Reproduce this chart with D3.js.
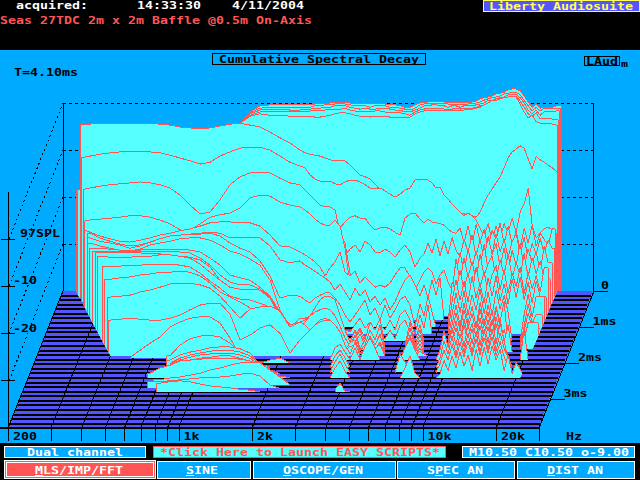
<!DOCTYPE html>
<html><head><meta charset="utf-8">
<script src="https://cdnjs.cloudflare.com/ajax/libs/d3/7.8.5/d3.min.js"></script>
<style>html,body{margin:0;padding:0;background:#000}svg{display:block}</style></head>
<body><svg id="c" width="640" height="480"></svg>
<script>
// frequency columns shared by every decay slice (Hz)
const freqs=[226,235,246,258,283,312,342,376,414,455,499,549,603,663,729,801,880,967,1063,1168,1283,1410,1550,1703,1872,
1962,2058,2157,2262,2371,2486,2606,2732,2863,3002,3147,3298,3458,3625,3800,3983,4176,4377,4589,4811,5042,5286,5541,5809,
6033,6265,6506,6757,7017,7287,7568,7860,8162,8477,8803,9143,9495,9860,10240,10635,11045,11470,11912,12371,12848,13343,13857,14391,14945,15520,16118,16739,17384,18054,18750,19472,20222,21000];
// slice levels in dB SPL read against the back wall scale; 30 = under the floor
const s00=[92.7,95.1,96.4,96.6,96.6,96.6,96.6,96.6,96.6,96.8,96.8,97,97,97.2,97.2,97.2,97,97,96.8,96.8,96.8,96.8,96.8,96.8,96.6,96.6,96.4,96.1,96.1,96.6,97,97.2,97.2,97.4,97.4,97.4,97.2,97.2,97.2,97.2,97.2,97.2,97.2,97.2,97.4,97.9,98.1,98.3,98.5,98.9,99.1,99.3,99.8,100,100,99.6,98.5,97.2,96.1,96.8,95.9,96.1,96.1,96.1,96.4];
const s01=[92.7,94.9,95.9,96.1,96.1,96.1,96.1,96.1,96.1,96.4,96.4,96.6,96.6,96.8,96.8,96.8,96.6,96.4,96.4,96.4,96.1,96.4,96.4,96.4,96.1,96.1,95.9,95.7,95.5,95.9,96.6,96.8,96.8,97,97,96.8,96.8,96.8,96.6,96.8,96.6,96.6,96.8,96.8,97,97.2,97.6,97.9,98.1,98.3,98.5,98.9,99.1,99.3,99.3,98.7,97.6,96.4,95.3,96.1,95.3,95.9,95.9,95.9,95.9];
const s02=[92.7,94.7,95.5,95.7,95.7,95.5,95.5,95.7,95.7,95.9,95.9,96.1,96.1,96.4,96.4,96.4,96.1,95.9,95.7,95.9,95.7,95.7,95.9,95.9,95.7,95.5,95.5,95.1,95.1,95.5,95.9,96.4,96.4,96.6,96.6,96.4,96.4,96.1,96.4,96.4,96.1,96.4,96.4,96.4,96.6,96.8,97,97.6,97.6,97.9,98.1,98.3,98.7,98.9,98.9,98.1,97,95.5,94.7,95.5,94.4,95.1,95.1,95.1,95.3];
const s03=[92.7,94.4,95.1,95.1,95.1,95.1,95.1,95.1,95.3,95.3,95.5,95.5,95.7,95.7,95.7,95.9,95.5,95.3,95.1,95.3,95.1,95.3,95.3,95.1,94.9,94.9,94.9,94.7,94.4,95.1,95.5,95.7,95.9,95.9,95.9,95.9,95.7,95.7,95.7,95.9,95.7,95.9,95.9,95.9,96.1,96.4,96.6,97,97.2,97.4,97.6,97.9,98.1,98.3,98.5,97.4,96.1,94.7,94.2,94.9,93.6,93.8,93.8,93.6,93.4];
const s04=[92.7,94.2,94.7,94.4,94.4,94.2,94.2,94.2,94.2,94,94,94.2,94.4,94.7,94.9,94.9,94.7,94.4,94.2,94.2,94,94.2,94.2,94.2,94,94,94,93.8,94,94.7,95.1,95.3,95.5,95.5,95.5,95.5,95.5,95.5,95.3,95.5,95.5,95.5,95.7,95.7,95.9,96.1,96.6,97,97.6,97.6,97.9,98.1,98.3,98.5,98.3,96.8,95.1,93.8,94.4,93,92.7,92.7,92.7,92.5,92.3];
const e00=[78.7],e01=[78.7],e02=[78.7];
const s05=[92.5,92.5,92.5,92.7,92.7,92.7,92.7,92.7,92.7,92.5,92.3,91.9,91.7,91.5,91.7,92.1,92.5,92.7,92.3,91.9,90.8,89.6,88.5,87,86.4,86.1,85.9,85.7,85.3,84.9,84.7,84.7,84.7,83.8,82.7,81.7,81.3,80.8,79.8,78.5,78.1,77.4,76.4,75.5,75.3,75.1,74.7,74.2,73.8,73.6,73.4,73.2,73,73,73.2,73.4,73.6,73.6,73.4,73.2,73,72.7,73.8,75.7,77.4,78.7,80,81.3,83.2,85.3,86.6,87.2,87.9,87.4,85.1,83,85.7,84.9,84.4,83.8,83.2,82.5];
const s06=[85.5,85.7,86.1,86.4,86.6,86.6,86.6,86.6,86.4,85.9,85.3,84.7,84,84.4,85.7,86.6,87.4,87.6,87.6,87,85.7,84.4,83.6,83.2,81.7,80.8,80.4,80.4,80.4,79.8,79.6,80.2,80.6,80.6,80.2,79.6,78.9,78.9,78.9,78.3,77.6,77,77.6,78.5,78.9,80.6,80.8,80.8,80.6,80,78.9,79.1,77.4,76.6,75.5,74.7,73.8,73,73.6,73,72.1,70.4,68.7,71.3,67.8,70.8,68.3,71.3,69.5,72.5,69.5,73.8,75.5,78.9,71,68.3,69.3,70.2,70.6,70,69.3];
const s07=[73.2,71.7,70.4,71.7,72.7,73,72.5,72.5,71,70,70.4,70.6,70.2,69.5,68.9,72.5,73.4,73.6,72.3,71.5,72.3,71.7,71.5,71.3,71,70.2,69.5,69.3,70.4,67.2,70.9,66.8,71.2,67.5,70.1,66.3,69.9,67.9,71.5,66.9,70.8,67,69.6,65.9,70.4,67.2,71,66.5,69.3,68,66.6,70.2];
const s08=[62.5,64.7,65.9,66.8,65.3,67.6,66.8,65.3,65.1,65.9,65.3,64.2,65.7,66.8,65.3,62.1,64,64.8,67.2,65.1,68,64.5,67.6,64.9,68.4,65.6,64.3,68.1,65.2,68.9,64.4,67.9,63.9,68.6,64.8,69.2,65.4,68,64.1,67.5,69.3,64.7,68.4,63.8,67.1,64.9,68.2,65,67.8,66.1];
const s09=[78.7,78.9,79.3,79.6,79.8,80,80.2,80,79.6,78.9,77.4,75.3,73.4,73.8,76.4,79.6,81.3,82.1,82.3,82.1,81,80,79.6,78.5,77.4,76.4,75.3,74.9,74.9,74.2,69.5,67.2,60.8,57.2,55.9,55.1,55.9];
const s10=[71.9,72.1,72.3,72.5,72.7,73,73,72.7,72.1,71.3,70,69.8,71.3,72.7,73.2,73.6,74.7,76.8,77.4,77.2,75.9,75.3,74.9,74.2,73.4,72.3,71.5,71,71,72.1,70.8,66.1,58.3,55.1];
const s11=[70,69.5,68.7,68.1,67.6,67.4,67.8,68.3,68.9,69.3,69.8,70.2,70.8,71.5,71.7,71.7,71.5,71.5,70.8,68.9,66.6,66.4,65.3,64.7,64,63.2,62.1,60.2,61.9,63.2,65.3,61,60.2,61.2,58.7,60,58.9,57.8,58.3,57.8,58.7,60.4,61.9,61.9,60,57.2,59.3,61,61.9,61,58.5,60.4,61.5,58.9,57.2,61,65.2,60.8,66,61.9,65.5,62,66.9,61.5,64.8,67,62,66.2,60.9,65.7,62.4,67.2,61.8,66,62.9,65.4,61,66.5,63];
const s12=[69.3,68.3,67.6,67,66.6,66.8,67.4,67.8,68.5,68.7,69.1,69.3,69.5,69.3,68.3,68.3,68.3,68.3,66.6,63.6,63,63.4,62.5,61.9,61.2,60.4,59.8,58.9,57.2,58.5,56.8,55.1,57.6,55.9,57.2,54.7,55.9,54,55.5,53,54.7,57.2,59.3,60.4,58.3,55.9,58.3,55.5,59.3,56.1,59.8,30,30,56.8,63.8,59.1,64,60,63.2,59.4,64.8,60.2,62.9,64.4,59.7,63.6,60.5,64.9,59.8,63.1,60.1,65,59.9,64.1,60.7,63.3,59.6];
const s13=[68.3,67.6,67.2,66.8,66.1,66.6,67.4,68.1,68.7,68.9,69.1,69.1,69.3,68.7,67.2,66.1,65.3,63.4,60.2,55.5,56.1,55.9,55.1,54.4,55.5,56.1,56.6,56.6,55.5,54,51.9,50.4,51.9,53.4,55.1,51.9,53.4,50.8,54,51.2,53,55.1,55.9,54,30,54.2,51.7,55.9,52.5,30,30,30,30,58.9,56.9,61.4,57.3,60.9,56.4,62,57.8,61.1,56.7,60.5,62.3,57.2,61.6,56.5,60.8,57.9,62.1,56.3,61,57.5,60.2,56.8,61.9];
const s14=[67.2,66.6,66.1,65.7,65.5,65.9,66.8,67.2,67.6,68.1,68.3,68.3,67.8,66.8,65.5,64.9,63.8,62.5,59.3,53,49.1,51.2,51.2,51.7,52.5,54,53.6,53.6,52.5,50.8,48.7,48.3,49.8,51.2,49.1,50.4,48.3,49.8,48.7,50.8,48.7,51.9,53,50.8,30,51.9,49.1,54,30,30,30,30,30,54.8,59.4,55,59,54.6,60.1,55.5,58.7,54.4,59.8,55.9,60.2,54.9,58.5,54.2,59.6,55.6,60,55.1,58.9,54.5,59.2,55.8];
const s15=[66.1,65.9,65.7,65.7,65.7,65.9,65.9,65.9,65.9,65.7,65.3,64,62.5,60.4,59.8,59.3,57.8,55.9,52.5,49.8,50.4,50.4,50.4,51.2,51.9,51.7,51.2,50.4,49.1,47.6,46.9,47.6,49.1,46.9,48.7,46.9,47.6,46.8,48.7,46.9,49.8,50.8,48.3,30,49.8,30,30,30,30,30,30,30,52,56.6,52.4,57,51.9,56.2,53,57.4,52.2,56.8,51.7,57.2,53.1,56,52.5,30,30,30,52,56.3,51.4,55.9];
const s16=[65.3,65.3,65.3,65.3,65.3,65.3,65.3,65.3,65.3,65.1,64,62.5,60.4,58.9,58.3,58.3,57.4,55.9,51.9,49.3,49.8,49.5,49.1,49.8,50.4,50.2,49.8,48.7,47.6,46.1,45.7,46.9,48.7,46.1,48.3,46.6,48.7,30,30,30,30,30,50.4,30,48.7,30,30,30,30,30,30,30,49.8,54,49.6,54.4,50.2,53.7,49.4,54.6,50,54.1,49.7,53.8,50.4,54.9,30,30,30,30,49.5,54.2,50.1,52];
const s17=[65.1,65.1,65.1,65.1,65.1,64.9,64.9,64.7,64.4,64.2,63.6,62.1,59.3,57.8,57.2,57.2,57,55.7,51.9,49.3,49.5,50.4,50.8,51.7,52.5,52.3,51.9,50.4,48.7,46.6,45.3,46.1,47.8,45.5,47.4,46.1,47,30,30,30,30,30,49.1,30,47.6,30,30,30,30,30,30,30,48.2,52.4,48.6,53,49.1,52.1,48.3,53.2,48.9,52.6,47.9,53.4,49.4,30,30,30,30,30,48.5,52.3,49];
const s18=[64.4,64.2,64.2,64.2,64.4,64.4,64.7,64.7,64.4,64,62.7,61,59.3,57.8,57.4,57.4,57.2,55.5,51.2,48.9,50.4,50.8,51.7,53.4,55.1,55.9,55.9,55.1,51.9,48.7,46.1,48.7,30,46.6,50.4,48.7,51.2,30,30,30,30,30,47.6,30,46.6,30,30,30,30,30,30,30,46.9,50.6,46.4,51,47.2,50.1,46.2,51.3,47,50.9,45.8,51.5,47.5,30,30,30,30,30,46.8,50.2];
const s19=[62.3,62.3,62.5,62.5,62.7,62.7,62.7,62.5,62.1,60.8,59.1,57.6,55.9,55.3,55.1,54.4,53.6,52.1,49.5,49.1,50.4,51.7,52.5,53,53.4,53,51.7,49.5,47,45.3,47.6,30,45.5,48.7,46.6,49.8,30,30,30,30,30,46.1,30,45.5,30,30,30,30,30,30,30,45.8,49.2,45.6,49.8,45.9,48.9,45.4,49.6,46,49.3,45.5,50,46.4,48.8,45.7,30];
const s20=[59.5,59.8,60,60.4,60.6,61,61,61.2,61,60.2,58.7,56.8,55.7,54.7,53.4,51.9,50.2,48.3,46.6,45.5,44.9,46.1,47.6,48.7,49.3,49.1,47.8,46.1,44.4,46,46.6,30,44.4,47.4,45.5,47.8,30,30,30,30,30,47,30,45.7,30,30,30,30,30,30,30,30,30,46.1,44.4,47.6,44.4,48.7,44.9,49.8,45.3,50.8,45.7,51.2,46.1,49.8,30];
const s21=[55.7,55.9,56.1,56.8,57.2,57.8,58.5,58.7,58.7,58.3,57.6,55.9,53.6,51.2,53.2,53.6,53.8,52.7,49.3,50.4,49.8,48.7,49.8,50.8,51.2,50.8,49.5,47.6,44.4,45.2,45.5,30,43.9,46.6,44.4,46.2,30,30,30,30,30,45.5,30,44.8,43.8,30];
const s22=[50.8,51,51.2,51,50.8,50.8,51.2,51.9,53,54,54.4,54.4,52.1,46.6,47.6,49.1,49.8,48,43.8,46.6,47.6,48.7,49.8,50.4,50.8,50.8,49.8,48.3,45.5,43.6,46.1,30,43.9,46,44.8,45.6,30,30,30,30,30,44.6,30,44.2,43.6,30];
const s23=[30,44.4,45.9,47.2,49.3,50.4,51.2,51.5,51.5,50.2,47,43.2,30];
const s24=[30,30,30,30,44.9,45.7,44,30,44.9,30,45.3,47,44.9,30,30,30,30,30,44.9,47,44.4,30,30,30,30,30,44.4,48.5,45,49,45.5,49.6,45.2,49.9,45.8,50.3,45.4,50.6,46,51,45.7,50.2,46.3,30,30,30,30,48.7,30];
const h01=[43.2,45.5,46.8,47.4,47.6,47.2,45.9,44,42.3,41.4,42.3,42.7,41.4,30];
const h02=[42.3,43.4,44,44.4,44.9,45.1,45.1,44.7,43.8,41.4,30];
const n02=[30,30,30,30,43.2,44.4,42.8,30,30,30,30,30,30,30,30,30,30,30,30,30,30,30,30,30,30,30,42.8,46.4,43.6,47.4,43.4,47.9,43.9,48,44,48.4,43.8,48.8,44.4,49,44.2,48.1,44.7,43,30];
const h03=[41.6,42.7,43.4,43.8,44.2,44.4,44.4,44,43.2,41.4,30];
const h04=[41.4,42.3,42.9,43.4,43.6,43.8,43.8,43.4,42.7,41.2,30];
const h05=[41.6,42.3,42.7,42.9,43.2,43.2,42.7,42.1,41.2,30];
const n03=[30,30,30,30,41.9,43.6,41.4,30,30,30,30,30,30,30,30,30,30,43.6,41.9,30,30,30,30,30,30,30,41.6,44.4,42.3,45.6,42.7,46,43,46.3,43.1,46.8,43.4,47,43.8,47.2,43.2,46.2,43,41,30];
const h06=[41.4,41.8,42.1,42.3,42.5,42.5,42.3,41.9,41,40.2,30];
const h07=[39.5,40.6,41.2,42.1,42.3,42.5,42.7,42.7,42.7,42.5,42.1,41.4,40.2,38.9,30];
const n04=[30,30,30,30,40.6,42.1,39.9,30,30,30,30,30,30,30,30,30,30,30,40.6,43.2,39.5,30,30,30,30,30,39.4,42.2,40.1,43.2,40.6,44,41,43.4,40.1,44.6,41,45,41.5,45.3,42.3,44.5,40.1,43.4,39.5,41.8,40.4,30];
const h08=[38.1,38.5,38.7,39.1,39.5,40.2,40.6,41.2,41.7,41.9,41.7,40.2,38.7,30];
const h09=[37.7,37.9,38.1,38.3,38.5,38.5,38.7,38.9,39.3,39.5,38.9,37,30];
const h10=[37.4,37.7,37.9,37.7,37.2,36.8,36.6,36.4,36.1,35.9,30];
const n05=[36.1,37.4,35.7,30];
const slices=[s00,s01,s02,s03,s04,e00,e01,e02,s05,s06,s07,s08,s09,s10,s11,s12,s13,s14,s15,s16,s17,s18,s19,s20,s21,s22,s23,s24,h01,h02,n02,h03,h04,h05,n03,h06,h07,n04,h08,h09,h10,n05];
const sliceMs=[0,.04,.08,.12,.16,.17,.18,.19,.2,.3,.31,.32,.5,.6,.7,.8,1,1.2,1.4,1.5,1.55,1.6,1.65,1.7,1.75,1.8,1.85,1.9,2,2.1,2.12,2.15,2.2,2.25,2.26,2.3,2.4,2.41,2.6,2.7,2.8,2.8];
const sliceFirstCol=[18,18,18,18,18,1,1,1,1,2,30,32,2,2,2,3,3,3,4,4,4,4,5,5,5,5,7,27,11,11,27,11,11,12,27,12,9,27,10,10,10,31];
const sliceStartHz=[1063,1063,1063,1063,1063,226,228,230,235,239,2486,2732,242,246,246,251,253,253,258,263,271,278,289,297,303,306,376,2157,533,533,2157,549,549,603,2157,603,442,2157,468,442,485,2606];
const sliceEndHz=[21980,21770,21570,21370,21280,235,235,235,21180,20980,20780,20590,3625,3147,20200,19830,19470,19100,18750,18400,18050,17710,13343,13343,3800,3147,1168,15520,1703,1283,13343,1283,1283,1283,15000,1410,1550,14945,1550,1410,1168,2863];
const freqTicks=[200,300,400,500,600,700,800,900,1000,2000,3000,4000,5000,6000,7000,8000,9000,10000,20000,30000];
const freqTickLabels={200:"200",1000:"1k",2000:"2k",10000:"10k",20000:"20k"};
const dbTicks=[0,-10,-20,-30];
const dbTickLabels=["97SPL","-10","-20",""];
const msTicks=[0,1,2,3];
const msTickLabels=["0","1ms","2ms","3ms"];
const wallTicks=[0,-10,-20,-30];
const floorStripesMs=[.127,.254,.381,.508,.635,.762,.889,1.016,1.143,1.27,1.397,1.524,1.651,1.778,1.905,2.032,2.159,2.286,2.413,2.54,2.667,2.794,2.921,3.048,3.175,3.302,3.429,3.556,3.683,3.8];

const SKY="#00aaff",CY="#55ffff",RED="#ff5555",BLUE="#5555ff",YEL="#ffff55",K="#000";
const svg=d3.select("#c").attr("shape-rendering","crispEdges");
const FONT="'DejaVu Sans Mono',monospace";
function txt(g,x,y,s,col,opt={}){
  const cw=opt.cw||8,fs=opt.fs||10.5;
  return g.append("text").attr("x",x).attr("y",y).attr("fill",col).attr("font-family",FONT).attr("font-weight","bold")
   .attr("font-size",fs).attr("dominant-baseline","central").attr("textLength",s.length*cw).attr("lengthAdjust","spacingAndGlyphs").text(s);
}
function box(x,y,w,h,fill,stroke){return svg.append("rect").attr("x",x+.5).attr("y",y+.5).attr("width",w).attr("height",h).attr("fill",fill).attr("stroke",stroke);}

// scales
const xBack=d3.scaleLog().domain([200,30000]).range([63,594]);
const shift=d3.scaleLinear().domain([0,3.8]).range([0,-55]);
const yFloor=d3.scaleLinear().domain([0,3.8]).range([291,428]);
const yWall=d3.scaleLinear().domain([57,97]).range([291,103]);
const yFront=d3.scaleLinear().domain([-40,0]).range([428,239]);
const yWallDb=d3.scaleLinear().domain([-40,0]).range([291,103]);
const xFront=d3.scaleLog().domain([200,30000]).range([8,539]);

// backgrounds
svg.append("rect").attr("width",640).attr("height",480).attr("fill",K);
svg.append("rect").attr("y",50).attr("width",640).attr("height",393).attr("fill",SKY);

// header
txt(svg,16,5,"acquired:","#fff");txt(svg,137,5,"14:33:30","#fff");txt(svg,232,5,"4/11/2004","#fff");
txt(svg,0,20,"Seas 27TDC 2m x 2m Baffle @0.5m On-Axis",RED);
box(483,0,156,11,BLUE,YEL);txt(svg,489,6,"Liberty Audiosuite",YEL);
box(212,53,213,11,SKY,K);txt(svg,219,59,"Cumulative Spectral Decay",K);
txt(svg,14,72,"T=4.10ms",K);
box(584,56,35,9,SKY,K);txt(svg,586,61,"LAud",K);txt(svg,621,63.5,"m",K,{cw:7,fs:9});

// wall
const wall=svg.append("g").attr("stroke",K).attr("fill","none");
wall.append("line").attr("x1",xBack(200)).attr("x2",xBack(200)).attr("y1",yWallDb(0)).attr("y2",yWallDb(-40));
wall.append("line").attr("x1",xBack(30000)-1).attr("x2",xBack(30000)-1).attr("y1",yWallDb(0)).attr("y2",yWallDb(-40));
wallTicks.forEach(d=>{
  wall.append("line").attr("x1",xBack(200)).attr("x2",xBack(30000)-1).attr("y1",yWallDb(d)).attr("y2",yWallDb(d)).attr("stroke-dasharray","3 3");
  wall.append("line").attr("x1",xFront(200)+1).attr("x2",xBack(200)).attr("y1",yFront(d)).attr("y2",yWallDb(d)).attr("stroke-dasharray","2 3");
});
// front axis
wall.append("line").attr("x1",xFront(200)).attr("x2",xFront(200)).attr("y1",192).attr("y2",yFront(-40));
dbTicks.forEach((d,i)=>{
  wall.append("line").attr("x1",1).attr("x2",15).attr("y1",yFront(d)).attr("y2",yFront(d));
  if(dbTickLabels[i])txt(svg,i?13:20,yFront(d)-6,dbTickLabels[i],K);
});

// floor
const fr=[[xBack(200),yFloor(0)],[xBack(30000)-1,yFloor(0)],[xFront(30000)-1,yFloor(3.8)],[xFront(200)+1,yFloor(3.8)]];
svg.append("polygon").attr("points",fr.join(" ")).attr("fill",BLUE);
const leftAt=t=>xBack(200)+shift(t),rightAt=t=>xBack(30000)-1+shift(t);
floorStripesMs.forEach(t=>svg.append("line").attr("x1",leftAt(t)).attr("x2",rightAt(t)).attr("y1",yFloor(t)).attr("y2",yFloor(t)).attr("stroke",K).attr("stroke-width",2));
freqTicks.forEach(f=>svg.append("line").attr("x1",xBack(f)).attr("x2",xFront(f)).attr("y1",yFloor(0)).attr("y2",yFloor(3.8)).attr("stroke",K));

// surface
svg.append("defs").append("clipPath").attr("id","surf").append("polygon").attr("points",[
 [xBack(226),0],[xBack(21980)+1,0],[xBack(21980)+1,yFloor(0)],[xBack(21180),yFloor(0)],[xBack(12250),yFloor(3.8)],[xBack(12250),480],[xBack(312),480],[xBack(312),yFloor(1.78)],[xBack(226),yFloor(0)]
].join(" "));
const surf=svg.append("g").attr("clip-path","url(#surf)");
slices.forEach((vals,k)=>{
  const t=sliceMs[k],base=yFloor(t),first=sliceFirstCol[k];
  const pts=[{f:sliceStartHz[k],v:vals[0]}];
  vals.forEach((v,i)=>pts.push({f:freqs[first+i],v}));
  pts.push({f:sliceEndHz[k],v:vals[vals.length-1]});
  const up=p=>p&&yWall(p.v)<base;
  const vis=(p,i)=>up(p)||up(pts[i-1])||up(pts[i+1]);
  const yy=p=>Math.min(yWall(p.v),base);
  const a=d3.area().x(p=>xBack(p.f)).y0(base).y1(yy).defined(vis);
  const l=d3.line().x(p=>xBack(p.f)).y(yy).defined(vis);
  surf.append("path").attr("d",a(pts)).attr("fill",CY);
  surf.append("path").attr("d",l(pts)).attr("fill","none").attr("stroke",RED);
  [pts[0],pts[pts.length-1]].forEach(p=>{
    if(up(p))surf.append("line").attr("x1",xBack(p.f)).attr("x2",xBack(p.f)).attr("y1",yy(p)).attr("y2",base).attr("stroke",RED);
  });
});

// right axis (time)
msTicks.forEach((m,i)=>{
  svg.append("line").attr("x1",rightAt(m)).attr("x2",rightAt(m)+15).attr("y1",yFloor(m)).attr("y2",yFloor(m)).attr("stroke",K);
  txt(svg,rightAt(m)+(i?14:8),yFloor(m)-6,msTickLabels[i],K);
});

// bottom axis
const ax=svg.append("g").attr("transform","translate(0,428)").call(d3.axisBottom(xFront).tickValues(freqTicks).tickSize(13).tickFormat(""));
ax.select(".domain").remove();ax.selectAll("line").attr("stroke",K);
svg.append("line").attr("x1",0).attr("x2",539).attr("y1",428).attr("y2",428).attr("stroke",K).attr("stroke-width",2);
Object.keys(freqTickLabels).forEach(f=>txt(svg,xFront(+f)+5,435.5,freqTickLabels[f],K));
txt(svg,566,435.5,"Hz",K);

// bottom panel
svg.append("rect").attr("y",443).attr("width",640).attr("height",37).attr("fill",K);
box(4,446,141,11,SKY,"#fff");txt(svg,27,452,"Dual channel","#fff");
box(153,446,292,11,CY,RED);txt(svg,160,452,"*Click Here to Launch EASY SCRIPTS*",RED);
box(462,446,172,11,SKY,"#fff");txt(svg,469,452,"M10.50 C10.50 o-9.00","#fff");
box(4,460,151,18,RED,"#fff");box(6,462,147,14,RED,"#fff");txt(svg,35,469.5,"MLS/IMP/FFT","#fff");
box(157,461,93,17,SKY,"#fff");txt(svg,186,469.5,"SINE","#fff");
box(253,461,142,17,SKY,"#fff");txt(svg,283,469.5,"OSCOPE/GEN","#fff");
box(397,461,117,17,SKY,"#fff");txt(svg,427,469.5,"SPEC AN","#fff");
box(517,461,117,17,SKY,"#fff");txt(svg,547,469.5,"DIST AN","#fff");
[[35,43],[186,194],[283,291],[435,443],[547,555]].forEach(u=>svg.append("line").attr("x1",u[0]).attr("x2",u[1]).attr("y1",475).attr("y2",475).attr("stroke","#fff"));
</script></body></html>
